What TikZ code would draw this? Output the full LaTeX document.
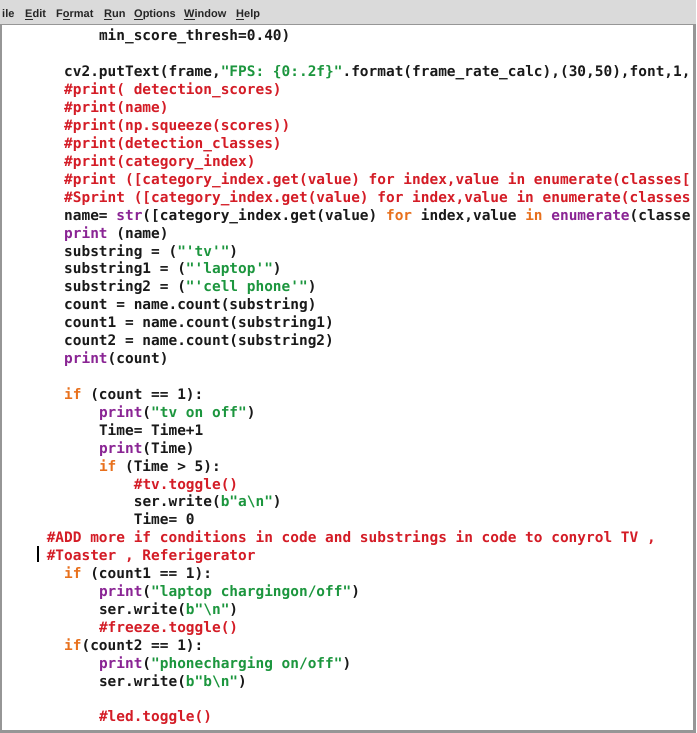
\documentclass[tikz,border=0pt]{standalone}
\usepackage{fontspec}
\setmonofont{DejaVu Sans Mono}
\newfontfamily\menufont{Liberation Sans}

\definecolor{menugray}{RGB}{218,218,218}
\definecolor{framegray}{RGB}{150,150,150}
\definecolor{codeblack}{RGB}{25,25,25}
\definecolor{cmtred}{RGB}{212,28,38}
\definecolor{strgreen}{RGB}{28,150,62}
\definecolor{kwdorange}{RGB}{232,112,28}
\definecolor{bltnpurple}{RGB}{138,36,148}

\newcommand\kwd[1]{\textcolor{kwdorange}{#1}}
\newcommand\bltn[1]{\textcolor{bltnpurple}{#1}}
\newcommand\strg[1]{\textcolor{strgreen}{#1}}
\newcommand\cmnt[1]{\textcolor{cmtred}{#1}}

\tikzset{
  codeline/.style={anchor=base west, inner sep=0pt, text=codeblack,
    font=\ttfamily\bfseries\fontsize{14.45}{17.92}\selectfont},
  menuitem/.style={anchor=base west, inner sep=0pt, text=black!85,
    font=\menufont\bfseries\fontsize{11}{13}\selectfont},
}

\begin{document}
\begin{tikzpicture}[x=1pt,y=-1pt]
  \useasboundingbox (0,0) rectangle (696,733);
  % window
  \fill[white] (0,0) rectangle (696,733);
  \fill[menugray] (0,0) rectangle (696,24);
  \draw[framegray, line width=1.5pt] (0,24.5) -- (696,24.5);
  \fill[framegray] (0,25) rectangle (1.5,733);
  \fill[framegray] (692.5,25) rectangle (696,733);
  \fill[framegray] (0,729.5) rectangle (696,733);

  % menu bar
  \node[menuitem] (file) at (2,17.5) {ile};
  \node[menuitem] (edit) at (25,17.5) {\underline{E}dit};
  \node[menuitem] (format) at (56,17.5) {F\underline{o}rmat};
  \node[menuitem] (run) at (104,17.5) {\underline{R}un};
  \node[menuitem] (options) at (134,17.5) {\underline{O}ptions};
  \node[menuitem] (window) at (184,17.5) {\underline{W}indow};
  \node[menuitem] (help) at (236,17.5) {\underline{H}elp};

  % cursor
  \fill[black] (36.5,546) rectangle (38.5,562);

  % code, (column,row)
  \begin{scope}[shift={(29.2,23.08)}, x=8.7pt, y=-17.92pt]
    \clip (-3.1,0.1) rectangle (76.2,39.4);
    \node[codeline] (l1) at (8,1) {min\_score\_thresh=0.40)};
    \node[codeline] (l3) at (4,3) {cv2.putText(frame,\strg{"FPS: \{0:.2f\}"}.format(frame\_rate\_calc),(30,50),font,1,};
    \node[codeline] (l4) at (4,4) {\cmnt{\#print( detection\_scores)}};
    \node[codeline] (l5) at (4,5) {\cmnt{\#print(name)}};
    \node[codeline] (l6) at (4,6) {\cmnt{\#print(np.squeeze(scores))}};
    \node[codeline] (l7) at (4,7) {\cmnt{\#print(detection\_classes)}};
    \node[codeline] (l8) at (4,8) {\cmnt{\#print(category\_index)}};
    \node[codeline] (l9) at (4,9) {\cmnt{\#print ([category\_index.get(value) for index,value in enumerate(classes[}};
    \node[codeline] (l10) at (4,10) {\cmnt{\#Sprint ([category\_index.get(value) for index,value in enumerate(classes}};
    \node[codeline] (l11) at (4,11) {name= \bltn{str}([category\_index.get(value) \kwd{for} index,value \kwd{in} \bltn{enumerate}(classe};
    \node[codeline] (l12) at (4,12) {\bltn{print} (name)};
    \node[codeline] (l13) at (4,13) {substring = (\strg{"'tv'"})};
    \node[codeline] (l14) at (4,14) {substring1 = (\strg{"'laptop'"})};
    \node[codeline] (l15) at (4,15) {substring2 = (\strg{"'cell phone'"})};
    \node[codeline] (l16) at (4,16) {count = name.count(substring)};
    \node[codeline] (l17) at (4,17) {count1 = name.count(substring1)};
    \node[codeline] (l18) at (4,18) {count2 = name.count(substring2)};
    \node[codeline] (l19) at (4,19) {\bltn{print}(count)};
    \node[codeline] (l21) at (4,21) {\kwd{if} (count == 1):};
    \node[codeline] (l22) at (8,22) {\bltn{print}(\strg{"tv on off"})};
    \node[codeline] (l23) at (8,23) {Time= Time+1};
    \node[codeline] (l24) at (8,24) {\bltn{print}(Time)};
    \node[codeline] (l25) at (8,25) {\kwd{if} (Time > 5):};
    \node[codeline] (l26) at (12,26) {\cmnt{\#tv.toggle()}};
    \node[codeline] (l27) at (12,27) {ser.write(\strg{b"a\textbackslash n"})};
    \node[codeline] (l28) at (12,28) {Time= 0};
    \node[codeline] (l29) at (2,29) {\cmnt{\#ADD more if conditions in code and substrings in code to conyrol TV ,}};
    \node[codeline] (l30) at (2,30) {\cmnt{\#Toaster , Referigerator}};
    \node[codeline] (l31) at (4,31) {\kwd{if} (count1 == 1):};
    \node[codeline] (l32) at (8,32) {\bltn{print}(\strg{"laptop chargingon/off"})};
    \node[codeline] (l33) at (8,33) {ser.write(\strg{b"\textbackslash n"})};
    \node[codeline] (l34) at (8,34) {\cmnt{\#freeze.toggle()}};
    \node[codeline] (l35) at (4,35) {\kwd{if}(count2 == 1):};
    \node[codeline] (l36) at (8,36) {\bltn{print}(\strg{"phonecharging on/off"})};
    \node[codeline] (l37) at (8,37) {ser.write(\strg{b"b\textbackslash n"})};
    \node[codeline] (l39) at (8,39) {\cmnt{\#led.toggle()}};
  \end{scope}
\end{tikzpicture}
\end{document}
